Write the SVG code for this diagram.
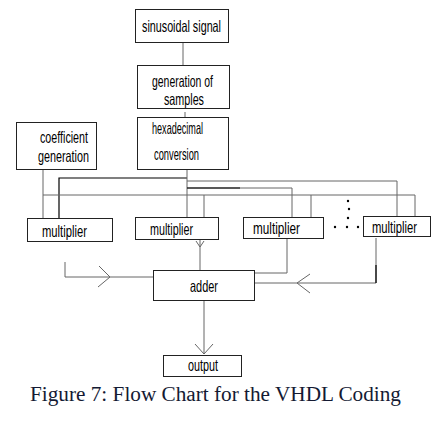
<svg xmlns="http://www.w3.org/2000/svg" width="439" height="421" viewBox="0 0 439 421">
<style>
.box{fill:#fff;stroke:#222;stroke-width:1}
.t{font-family:"Liberation Sans Narrow","Liberation Sans",sans-serif;font-size:16.5px;fill:#000;text-anchor:start}
.w{fill:none;stroke:#666;stroke-width:1}
.wd{fill:none;stroke:#000;stroke-width:1.2}
.cap{font-family:"Liberation Serif","Times New Roman",serif;font-size:20px;fill:#141a33}
</style>
<rect width="439" height="421" fill="#fff"/>
<g id="connectors">
<path class="w" d="M183,43V65"/>
<path class="w" d="M185,112V119"/>
<path class="w" d="M43,170V218"/>
<path class="wd" d="M59,218V178H187"/>
<path class="w" d="M187,170V217"/>
<path class="w" d="M187,181H397V216"/>
<path class="w" d="M187,188H292V217"/>
<path class="wd" d="M187,188H240"/>
<path class="w" d="M43,195H415V216"/>
<path class="w" d="M204,195V217"/>
<path class="w" d="M311,195V217"/>
<path class="w" d="M65,262V277H153"/>
<path class="w" d="M99,266L110,277L98,287"/>
<path class="w" d="M200,240V270"/>
<path class="w" d="M196,241L200,247L204,241"/>
<path class="w" d="M287,239V273H255"/>
<path class="w" d="M376,238V283H255"/>
<path class="wd" d="M376,265V283"/>
<path class="w" d="M310,274L297,283L310,293"/>
<path class="w" d="M204,301V354"/>
<path class="w" d="M195,344L204,354L213,344"/>
</g>
<g id="dots" fill="#000">
<circle cx="348" cy="201" r="1.2"/>
<circle cx="349" cy="209" r="1.2"/>
<circle cx="348" cy="218" r="1.2"/>
<circle cx="335" cy="227" r="1.2"/>
<circle cx="347" cy="227" r="1.2"/>
<circle cx="358" cy="227" r="1.2"/>
</g>
<g id="sinusoidal">
<rect class="box" x="135.5" y="9.5" width="93" height="33"/>
<text class="t" x="142" y="32" textLength="79" lengthAdjust="spacingAndGlyphs">sinusoidal signal</text>
</g>
<g id="samples">
<rect class="box" x="137.5" y="65.5" width="92" height="43"/>
<text class="t" x="152" y="87" textLength="61" lengthAdjust="spacingAndGlyphs">generation of</text>
<text class="t" x="164" y="105" textLength="40" lengthAdjust="spacingAndGlyphs">samples</text>
</g>
<g id="hexadecimal">
<rect class="box" x="137.5" y="117.5" width="91" height="52"/>
<text class="t" x="152" y="134" textLength="51" lengthAdjust="spacingAndGlyphs">hexadecimal</text>
<text class="t" x="154" y="160" textLength="45" lengthAdjust="spacingAndGlyphs">conversion</text>
</g>
<g id="coefficient">
<rect class="box" x="16.5" y="122.5" width="80" height="47"/>
<text class="t" x="40" y="143" textLength="48" lengthAdjust="spacingAndGlyphs">coefficient</text>
<text class="t" x="38" y="162" textLength="51" lengthAdjust="spacingAndGlyphs">generation</text>
</g>
<g id="multiplier1">
<rect class="box" x="27.5" y="218.5" width="85" height="23"/>
<text class="t" x="42" y="237" textLength="45" lengthAdjust="spacingAndGlyphs">multiplier</text>
</g>
<g id="multiplier2">
<rect class="box" x="135.5" y="217.5" width="83" height="22"/>
<text class="t" x="150" y="235" textLength="43" lengthAdjust="spacingAndGlyphs">multiplier</text>
</g>
<g id="multiplier3">
<rect class="box" x="243.5" y="217.5" width="80" height="21"/>
<text class="t" x="253" y="234" textLength="47" lengthAdjust="spacingAndGlyphs">multiplier</text>
</g>
<g id="multiplier4">
<rect class="box" x="363.5" y="216.5" width="67" height="20"/>
<text class="t" x="372" y="233" textLength="45" lengthAdjust="spacingAndGlyphs">multiplier</text>
</g>
<g id="adder">
<rect class="box" x="153.5" y="270.5" width="101" height="30"/>
<text class="t" x="190" y="292" textLength="28" lengthAdjust="spacingAndGlyphs">adder</text>
</g>
<g id="output">
<rect class="box" x="163.5" y="355.5" width="78" height="21"/>
<text class="t" x="188" y="371" textLength="30" lengthAdjust="spacingAndGlyphs">output</text>
</g>
<text class="cap" x="30" y="401" textLength="371" lengthAdjust="spacingAndGlyphs">Figure 7: Flow Chart for the VHDL Coding</text>
</svg>
